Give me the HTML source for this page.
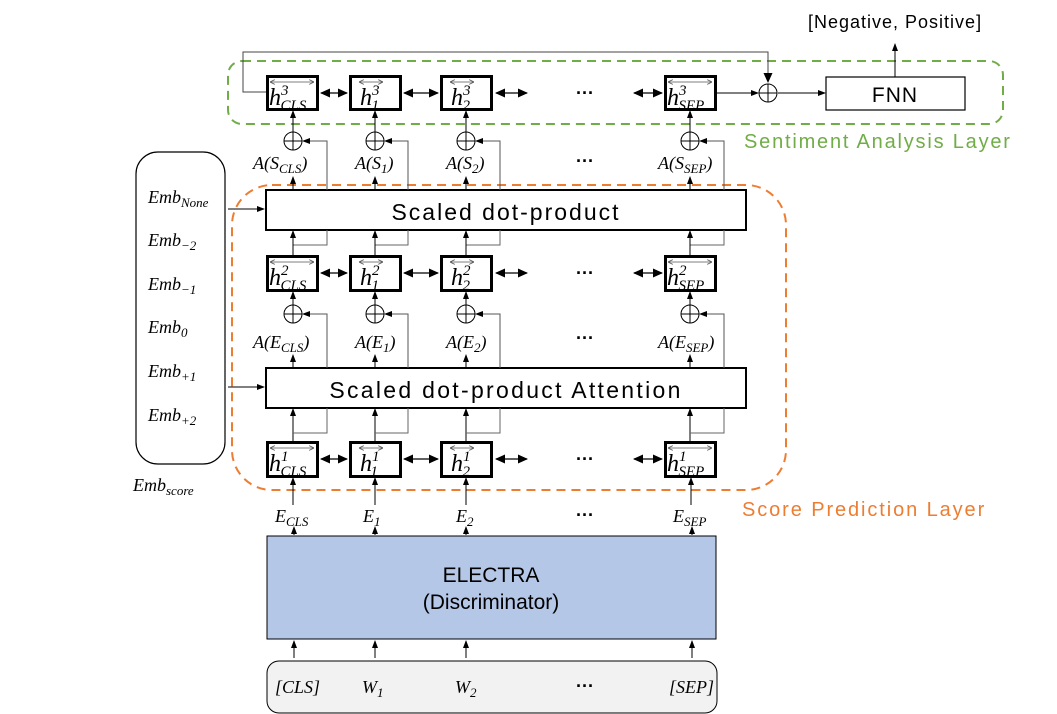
<!DOCTYPE html>
<html><head><meta charset="utf-8"><style>
html,body{margin:0;padding:0;background:#fff;}
svg{display:block;}
.m{font-family:"Liberation Serif",serif;font-style:italic;}
.s{font-family:"Liberation Sans","Noto Sans CJK KR",sans-serif;}
</style></head><body>
<svg width="1057" height="714" viewBox="0 0 1057 714" xmlns="http://www.w3.org/2000/svg">
<defs>
<marker id="a" markerWidth="8" markerHeight="8" refX="7" refY="4" orient="auto" markerUnits="userSpaceOnUse"><path d="M0,1 L8,4 L0,7 z" fill="#000"/></marker>
<marker id="b" markerWidth="10" markerHeight="10" refX="9" refY="5" orient="auto" markerUnits="userSpaceOnUse"><path d="M0,0.5 L10,5 L0,9.5 z" fill="#000"/></marker>
<marker id="bs" markerWidth="10" markerHeight="10" refX="1" refY="5" orient="auto" markerUnits="userSpaceOnUse"><path d="M10,0.5 L0,5 L10,9.5 z" fill="#000"/></marker>
<marker id="t" markerWidth="5" markerHeight="5" refX="5" refY="2.5" orient="auto" markerUnits="userSpaceOnUse"><path d="M0,0 L5,2.5 L0,5" fill="none" stroke="#555" stroke-width="0.8"/></marker>
<marker id="ts" markerWidth="5" markerHeight="5" refX="0" refY="2.5" orient="auto" markerUnits="userSpaceOnUse"><path d="M5,0 L0,2.5 L5,5" fill="none" stroke="#555" stroke-width="0.8"/></marker>
<g id="plus"><circle r="9" fill="#fff" stroke="#000" stroke-width="1"/><line x1="-9" y1="0" x2="9" y2="0" stroke="#000"/><line x1="0" y1="-9" x2="0" y2="9" stroke="#000"/></g>
</defs>

<rect x="228" y="61" width="775" height="63" rx="14" fill="none" stroke="#70ad47" stroke-width="2" stroke-dasharray="9,6"/>
<rect x="232" y="185" width="554" height="305" rx="40" fill="none" stroke="#ed7d31" stroke-width="2" stroke-dasharray="9,6"/>
<text x="744" y="148" class="s" font-size="20" letter-spacing="1.8" fill="#70ad47">Sentiment Analysis Layer</text>
<text x="742" y="516" class="s" font-size="20" letter-spacing="1.9" fill="#ed7d31">Score Prediction Layer</text>

<rect x="136" y="152" width="89" height="312" rx="22" fill="#fff" stroke="#000" stroke-width="1.2"/>
<g class="m" font-size="18">
<text x="148" y="203">Emb<tspan font-size="13" dy="4">None</tspan></text>
<text x="148" y="246">Emb<tspan font-size="13" dy="4">−2</tspan></text>
<text x="148" y="290">Emb<tspan font-size="13" dy="4">−1</tspan></text>
<text x="148" y="333">Emb<tspan font-size="13" dy="4">0</tspan></text>
<text x="148" y="377">Emb<tspan font-size="13" dy="4">+1</tspan></text>
<text x="148" y="421">Emb<tspan font-size="13" dy="4">+2</tspan></text>
<text x="133" y="491">Emb<tspan font-size="13" dy="4">score</tspan></text>
</g>
<line x1="228" y1="209" x2="264" y2="209" stroke="#000" marker-end="url(#a)"/>
<line x1="228" y1="387" x2="264" y2="387" stroke="#000" marker-end="url(#a)"/>

<polyline points="266,92 243,92 243,52 768,52 768,82" fill="none" stroke="#444" stroke-width="1" marker-end="url(#b)"/>
<use href="#plus" x="768" y="93"/>
<line x1="716" y1="93" x2="758" y2="93" stroke="#000" marker-end="url(#a)"/>
<line x1="778" y1="93" x2="825" y2="93" stroke="#000" marker-end="url(#a)"/>
<rect x="826" y="77" width="139" height="33" fill="#fff" stroke="#000" stroke-width="1.2"/>
<text x="895" y="102" class="s" font-size="21" letter-spacing="1" text-anchor="middle">FNN</text>
<line x1="895" y1="77" x2="895" y2="44" stroke="#000" marker-end="url(#a)"/>
<text x="808" y="28" class="s" font-size="18" letter-spacing="1">[Negative,  Positive]</text>

<rect x="266" y="190" width="480" height="40" fill="#fff" stroke="#000" stroke-width="2"/>
<text x="506" y="220" class="s" font-size="23" letter-spacing="2" text-anchor="middle">Scaled dot-product</text>
<rect x="266" y="368" width="480" height="40" fill="#fff" stroke="#000" stroke-width="2"/>
<text x="506" y="398" class="s" font-size="23" letter-spacing="2.3" text-anchor="middle">Scaled dot-product Attention</text>
<rect x="267" y="536" width="449" height="103" fill="#b4c7e7" stroke="#000" stroke-width="1"/>
<text x="491" y="582" class="s" font-size="21" text-anchor="middle">ELECTRA</text>
<text x="491" y="609" class="s" font-size="21" text-anchor="middle">(Discriminator)</text>
<rect x="267" y="661" width="450" height="52" rx="12" fill="#f2f2f2" stroke="#000" stroke-width="1"/>
<g class="m" font-size="18">
<text x="275" y="693">[CLS]</text>
<text x="362" y="693">W<tspan font-size="13" dy="4">1</tspan></text>
<text x="455" y="693">W<tspan font-size="13" dy="4">2</tspan></text>
<text x="669" y="693">[SEP]</text>
</g>
<text x="585" y="692" class="s" font-size="18" font-weight="bold" text-anchor="middle">···</text>

<g stroke="#000" stroke-width="1" marker-end="url(#a)">
<line x1="294" y1="658" x2="294" y2="641"/><line x1="375" y1="658" x2="375" y2="641"/><line x1="466" y1="658" x2="466" y2="641"/><line x1="692" y1="658" x2="692" y2="641"/>
<line x1="294" y1="535" x2="294" y2="527"/><line x1="375" y1="535" x2="375" y2="527"/><line x1="466" y1="535" x2="466" y2="527"/><line x1="692" y1="535" x2="692" y2="527"/>
</g>
<g class="m" font-size="18">
<text x="275" y="522">E<tspan font-size="13" dy="4">CLS</tspan></text>
<text x="363" y="522">E<tspan font-size="13" dy="4">1</tspan></text>
<text x="456" y="522">E<tspan font-size="13" dy="4">2</tspan></text>
<text x="673" y="522">E<tspan font-size="13" dy="4">SEP</tspan></text>
</g>
<text x="585" y="521" class="s" font-size="18" font-weight="bold" text-anchor="middle">···</text>

<g stroke="#000" stroke-width="1">
<line x1="293" y1="505" x2="293" y2="478" marker-end="url(#a)"/><line x1="375" y1="505" x2="375" y2="478" marker-end="url(#a)"/><line x1="466" y1="505" x2="466" y2="478" marker-end="url(#a)"/><line x1="691" y1="505" x2="691" y2="478" marker-end="url(#a)"/>
<line x1="293" y1="441" x2="293" y2="409" marker-end="url(#a)"/><line x1="375" y1="441" x2="375" y2="409" marker-end="url(#a)"/><line x1="466" y1="441" x2="466" y2="409" marker-end="url(#a)"/><line x1="690" y1="441" x2="690" y2="409" marker-end="url(#a)"/>
</g>
<g stroke="#666" stroke-width="1" fill="none">
<polyline points="293,433 327,433 327,408"/><polyline points="375,433 408,433 408,408"/><polyline points="466,433 500,433 500,408"/><polyline points="690,433 724,433 724,408"/>
<polyline points="293,245 327,245 327,230"/><polyline points="375,245 408,245 408,230"/><polyline points="466,245 500,245 500,230"/><polyline points="690,245 724,245 724,230"/>
</g>
<g stroke="#000" stroke-width="1">
<line x1="293" y1="255" x2="293" y2="231" marker-end="url(#a)"/><line x1="375" y1="255" x2="375" y2="231" marker-end="url(#a)"/><line x1="466" y1="255" x2="466" y2="231" marker-end="url(#a)"/><line x1="690" y1="255" x2="690" y2="231" marker-end="url(#a)"/>
<line x1="293" y1="305" x2="293" y2="292" marker-end="url(#a)"/><line x1="375" y1="305" x2="375" y2="292" marker-end="url(#a)"/><line x1="466" y1="305" x2="466" y2="292" marker-end="url(#a)"/><line x1="690" y1="305" x2="690" y2="292" marker-end="url(#a)"/>
<line x1="293" y1="368" x2="293" y2="355" marker-end="url(#a)"/><line x1="375" y1="368" x2="375" y2="355" marker-end="url(#a)"/><line x1="466" y1="368" x2="466" y2="355" marker-end="url(#a)"/><line x1="690" y1="368" x2="690" y2="355" marker-end="url(#a)"/>
<line x1="293" y1="132" x2="293" y2="111" marker-end="url(#a)"/><line x1="375" y1="132" x2="375" y2="111" marker-end="url(#a)"/><line x1="466" y1="132" x2="466" y2="111" marker-end="url(#a)"/><line x1="690" y1="132" x2="690" y2="111" marker-end="url(#a)"/>
<line x1="293" y1="190" x2="293" y2="177" marker-end="url(#a)"/><line x1="375" y1="190" x2="375" y2="177" marker-end="url(#a)"/><line x1="466" y1="190" x2="466" y2="177" marker-end="url(#a)"/><line x1="690" y1="190" x2="690" y2="177" marker-end="url(#a)"/>
</g>
<g stroke="#555" stroke-width="1" fill="none">
<polyline points="327,368 327,314 303,314" marker-end="url(#a)"/><polyline points="408,368 408,314 385,314" marker-end="url(#a)"/><polyline points="500,368 500,314 476,314" marker-end="url(#a)"/><polyline points="724,368 724,314 700,314" marker-end="url(#a)"/>
<polyline points="327,190 327,141 303,141" marker-end="url(#a)"/><polyline points="408,190 408,141 385,141" marker-end="url(#a)"/><polyline points="500,190 500,141 476,141" marker-end="url(#a)"/><polyline points="724,190 724,141 700,141" marker-end="url(#a)"/>
</g>
<use href="#plus" x="293" y="314"/><use href="#plus" x="375" y="314"/><use href="#plus" x="466" y="314"/><use href="#plus" x="690" y="314"/>
<use href="#plus" x="293" y="141"/><use href="#plus" x="375" y="141"/><use href="#plus" x="466" y="141"/><use href="#plus" x="690" y="141"/>

<g class="m" font-size="18">
<text x="253" y="348">A(E<tspan font-size="13" dy="4">CLS</tspan><tspan dy="-4">)</tspan></text>
<text x="355" y="348">A(E<tspan font-size="13" dy="4">1</tspan><tspan dy="-4">)</tspan></text>
<text x="446" y="348">A(E<tspan font-size="13" dy="4">2</tspan><tspan dy="-4">)</tspan></text>
<text x="658" y="348">A(E<tspan font-size="13" dy="4">SEP</tspan><tspan dy="-4">)</tspan></text>
<text x="253" y="169">A(S<tspan font-size="13" dy="4">CLS</tspan><tspan dy="-4">)</tspan></text>
<text x="355" y="169">A(S<tspan font-size="13" dy="4">1</tspan><tspan dy="-4">)</tspan></text>
<text x="446" y="169">A(S<tspan font-size="13" dy="4">2</tspan><tspan dy="-4">)</tspan></text>
<text x="658" y="169">A(S<tspan font-size="13" dy="4">SEP</tspan><tspan dy="-4">)</tspan></text>
</g>
<text x="585" y="344" class="s" font-size="18" font-weight="bold" text-anchor="middle">···</text>
<text x="585" y="167" class="s" font-size="18" font-weight="bold" text-anchor="middle">···</text>

<g stroke="#000" stroke-width="1.2">
<line x1="321" y1="93" x2="347" y2="93" marker-start="url(#bs)" marker-end="url(#b)"/>
<line x1="404" y1="93" x2="438" y2="93" marker-start="url(#bs)" marker-end="url(#b)"/>
<line x1="496" y1="93" x2="527" y2="93" marker-start="url(#bs)" marker-end="url(#b)"/>
<line x1="634" y1="93" x2="662" y2="93" marker-start="url(#bs)" marker-end="url(#b)"/>
<line x1="321" y1="273" x2="347" y2="273" marker-start="url(#bs)" marker-end="url(#b)"/>
<line x1="404" y1="273" x2="438" y2="273" marker-start="url(#bs)" marker-end="url(#b)"/>
<line x1="496" y1="273" x2="527" y2="273" marker-start="url(#bs)" marker-end="url(#b)"/>
<line x1="634" y1="273" x2="662" y2="273" marker-start="url(#bs)" marker-end="url(#b)"/>
<line x1="321" y1="459" x2="347" y2="459" marker-start="url(#bs)" marker-end="url(#b)"/>
<line x1="404" y1="459" x2="438" y2="459" marker-start="url(#bs)" marker-end="url(#b)"/>
<line x1="496" y1="459" x2="527" y2="459" marker-start="url(#bs)" marker-end="url(#b)"/>
<line x1="634" y1="459" x2="662" y2="459" marker-start="url(#bs)" marker-end="url(#b)"/>
</g>
<text x="585" y="99" class="s" font-size="18" font-weight="bold" text-anchor="middle">···</text>
<text x="585" y="279" class="s" font-size="18" font-weight="bold" text-anchor="middle">···</text>
<text x="585" y="465" class="s" font-size="18" font-weight="bold" text-anchor="middle">···</text>

<svg x="266" y="75" width="53" height="36"><rect x="1.5" y="1.5" width="50" height="33" fill="#fff" stroke="#000" stroke-width="3"/><line x1="4" y1="7" x2="48" y2="7" stroke="#555" stroke-width="0.8" marker-start="url(#ts)" marker-end="url(#t)"/><text x="3" y="30" class="m" font-size="24">h<tspan font-size="15" dy="-10">3</tspan><tspan font-size="15" dx="-8" dy="15">CLS</tspan></text></svg>
<svg x="349" y="75" width="53" height="36"><rect x="1.5" y="1.5" width="50" height="33" fill="#fff" stroke="#000" stroke-width="3"/><line x1="10" y1="7" x2="34" y2="7" stroke="#555" stroke-width="0.8" marker-start="url(#ts)" marker-end="url(#t)"/><text x="11" y="30" class="m" font-size="24">h<tspan font-size="15" dy="-10">3</tspan><tspan font-size="15" dx="-8" dy="15">1</tspan></text></svg>
<svg x="440" y="75" width="53" height="36"><rect x="1.5" y="1.5" width="50" height="33" fill="#fff" stroke="#000" stroke-width="3"/><line x1="10" y1="7" x2="34" y2="7" stroke="#555" stroke-width="0.8" marker-start="url(#ts)" marker-end="url(#t)"/><text x="11" y="30" class="m" font-size="24">h<tspan font-size="15" dy="-10">3</tspan><tspan font-size="15" dx="-8" dy="15">2</tspan></text></svg>
<svg x="664" y="75" width="53" height="36"><rect x="1.5" y="1.5" width="50" height="33" fill="#fff" stroke="#000" stroke-width="3"/><line x1="4" y1="7" x2="48" y2="7" stroke="#555" stroke-width="0.8" marker-start="url(#ts)" marker-end="url(#t)"/><text x="3" y="30" class="m" font-size="24">h<tspan font-size="15" dy="-10">3</tspan><tspan font-size="15" dx="-8" dy="15">SEP</tspan></text></svg>

<svg x="266" y="255" width="53" height="37"><rect x="1.5" y="1.5" width="50" height="34" fill="#fff" stroke="#000" stroke-width="3"/><line x1="4" y1="7" x2="48" y2="7" stroke="#555" stroke-width="0.8" marker-start="url(#ts)" marker-end="url(#t)"/><text x="3" y="30" class="m" font-size="24">h<tspan font-size="15" dy="-10">2</tspan><tspan font-size="15" dx="-8" dy="15">CLS</tspan></text></svg>
<svg x="349" y="255" width="53" height="37"><rect x="1.5" y="1.5" width="50" height="34" fill="#fff" stroke="#000" stroke-width="3"/><line x1="10" y1="7" x2="34" y2="7" stroke="#555" stroke-width="0.8" marker-start="url(#ts)" marker-end="url(#t)"/><text x="11" y="30" class="m" font-size="24">h<tspan font-size="15" dy="-10">2</tspan><tspan font-size="15" dx="-8" dy="15">1</tspan></text></svg>
<svg x="440" y="255" width="53" height="37"><rect x="1.5" y="1.5" width="50" height="34" fill="#fff" stroke="#000" stroke-width="3"/><line x1="10" y1="7" x2="34" y2="7" stroke="#555" stroke-width="0.8" marker-start="url(#ts)" marker-end="url(#t)"/><text x="11" y="30" class="m" font-size="24">h<tspan font-size="15" dy="-10">2</tspan><tspan font-size="15" dx="-8" dy="15">2</tspan></text></svg>
<svg x="664" y="255" width="53" height="37"><rect x="1.5" y="1.5" width="50" height="34" fill="#fff" stroke="#000" stroke-width="3"/><line x1="4" y1="7" x2="48" y2="7" stroke="#555" stroke-width="0.8" marker-start="url(#ts)" marker-end="url(#t)"/><text x="3" y="30" class="m" font-size="24">h<tspan font-size="15" dy="-10">2</tspan><tspan font-size="15" dx="-8" dy="15">SEP</tspan></text></svg>

<svg x="266" y="441" width="53" height="37"><rect x="1.5" y="1.5" width="50" height="34" fill="#fff" stroke="#000" stroke-width="3"/><line x1="4" y1="7" x2="48" y2="7" stroke="#555" stroke-width="0.8" marker-start="url(#ts)" marker-end="url(#t)"/><text x="3" y="30" class="m" font-size="24">h<tspan font-size="15" dy="-10">1</tspan><tspan font-size="15" dx="-8" dy="15">CLS</tspan></text></svg>
<svg x="349" y="441" width="53" height="37"><rect x="1.5" y="1.5" width="50" height="34" fill="#fff" stroke="#000" stroke-width="3"/><line x1="10" y1="7" x2="34" y2="7" stroke="#555" stroke-width="0.8" marker-start="url(#ts)" marker-end="url(#t)"/><text x="11" y="30" class="m" font-size="24">h<tspan font-size="15" dy="-10">1</tspan><tspan font-size="15" dx="-8" dy="15">1</tspan></text></svg>
<svg x="440" y="441" width="53" height="37"><rect x="1.5" y="1.5" width="50" height="34" fill="#fff" stroke="#000" stroke-width="3"/><line x1="10" y1="7" x2="34" y2="7" stroke="#555" stroke-width="0.8" marker-start="url(#ts)" marker-end="url(#t)"/><text x="11" y="30" class="m" font-size="24">h<tspan font-size="15" dy="-10">1</tspan><tspan font-size="15" dx="-8" dy="15">2</tspan></text></svg>
<svg x="664" y="441" width="53" height="37"><rect x="1.5" y="1.5" width="50" height="34" fill="#fff" stroke="#000" stroke-width="3"/><line x1="4" y1="7" x2="48" y2="7" stroke="#555" stroke-width="0.8" marker-start="url(#ts)" marker-end="url(#t)"/><text x="3" y="30" class="m" font-size="24">h<tspan font-size="15" dy="-10">1</tspan><tspan font-size="15" dx="-8" dy="15">SEP</tspan></text></svg>
</svg>
</body></html>
